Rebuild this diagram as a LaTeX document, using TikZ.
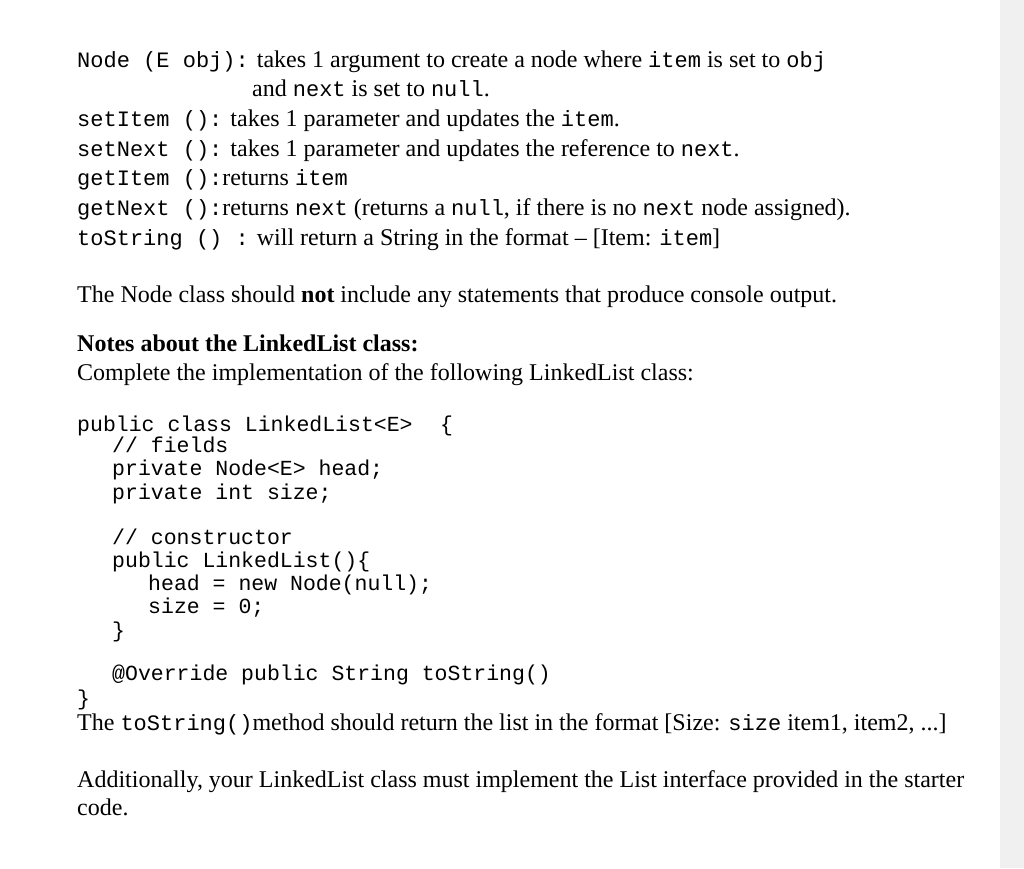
\documentclass[tikz,border=0pt]{standalone}
\usepackage{fontspec}
\setmainfont{Liberation Serif}
\setmonofont{Liberation Mono}
\newcommand{\mo}[1]{{\fontsize{22}{24}\ttfamily #1}}
\tikzset{tx/.style={anchor=base west,inner sep=0pt,font=\fontsize{24}{26}\selectfont},
 cd/.style={anchor=base west,inner sep=0pt,font=\fontsize{21.5}{22}\ttfamily}}
\begin{document}
\begin{tikzpicture}[x=1pt,y=1pt]
\fill[white] (0,0) rectangle (1024,868);
\fill[black!6] (1000,0) rectangle (1024,868);
\useasboundingbox (0,0) rectangle (1024,868);
\node[tx] (l1) at (77,800) {\mo{Node (E obj):} takes 1 argument to create a node where \mo{item} is set to \mo{obj}};
\node[tx] (l2) at (252,771) {and \mo{next} is set to \mo{null}.};
\node[tx] (l3) at (77,741) {\mo{setItem ():} takes 1 parameter and updates the \mo{item}.};
\node[tx] (l4) at (77,711) {\mo{setNext ():} takes 1 parameter and updates the reference to \mo{next}.};
\node[tx] (l5) at (77,682) {\mo{getItem ():}returns \mo{item}};
\node[tx] (l6) at (77,652) {\mo{getNext ():}returns \mo{next} (returns a \mo{null}, if there is no \mo{next} node assigned).};
\node[tx] (l7) at (77,622) {\mo{toString () :} will return a String in the format -- [Item: \mo{item}]};
\node[tx] (l8) at (77,565) {The Node class should \textbf{not} include any statements that produce console output.};
\node[tx] (l9) at (77,516) {\textbf{Notes about the LinkedList class:}};
\node[tx] (l10) at (77,487) {Complete the implementation of the following LinkedList class:};
\node[cd] (c1) at (77,436) {public class LinkedList<E>};
\node[cd] (c1b) at (440,436) {\{};
\node[cd] (c2) at (112,415) {// fields};
\node[cd] (c3) at (112,392) {private Node<E> head;};
\node[cd] (c4) at (112,369) {private int size;};
\node[cd] (c5) at (112,324) {// constructor};
\node[cd] (c6) at (112,301) {public LinkedList()\{};
\node[cd] (c7) at (148,278) {head = new Node(null);};
\node[cd] (c8) at (148,255) {size = 0;};
\node[cd] (c9) at (112,231) {\}};
\node[cd] (c10) at (112,188) {@Override public String toString()};
\node[cd] (c11) at (77,163) {\}};
\node[tx] (l11) at (77,138) {The \mo{toString()}method should return the list in the format [Size: \mo{size} item1, item2, ...]};
\node[tx] (l12) at (77,81) {Additionally, your LinkedList class must implement the List interface provided in the starter};
\node[tx] (l13) at (77,53) {code.};
\end{tikzpicture}
\end{document}
